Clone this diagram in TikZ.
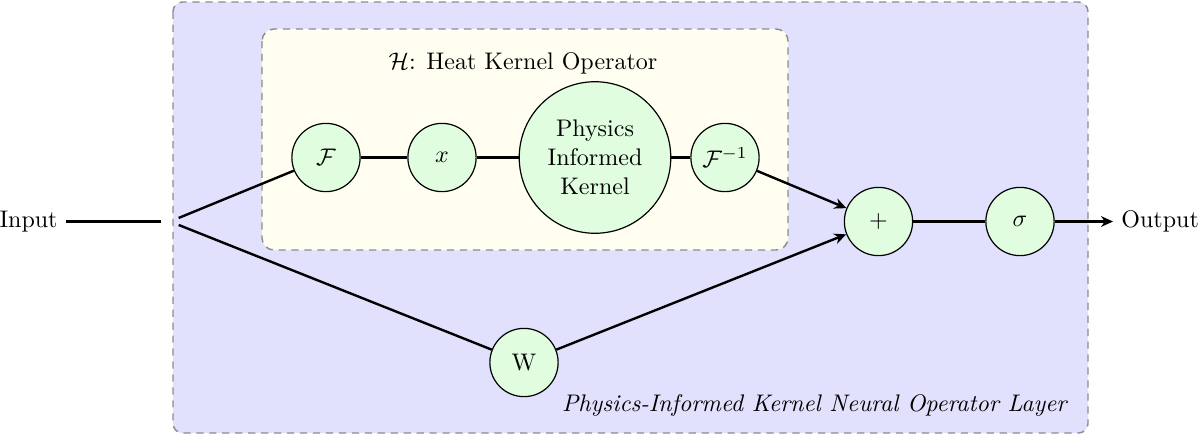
\documentclass[tikz,border=0pt]{standalone}
\usetikzlibrary{arrows.meta}
\definecolor{outerfill}{RGB}{225,225,253}
\definecolor{innerfill}{RGB}{255,254,240}
\definecolor{nodefill}{RGB}{224,253,224}
\definecolor{framegray}{RGB}{140,140,140}
\begin{document}
\begin{tikzpicture}[x=0.01465cm,y=-0.01465cm,
  opnode/.style={circle,draw=black,line width=0.5pt,fill=nodefill,minimum size=1cm,inner sep=1pt},
  bigop/.style={opnode,minimum size=2.22cm,align=center},
  boxframe/.style={draw=framegray,line width=0.6pt,dash pattern=on 3pt off 2.4pt},
  conn/.style={line width=1pt},
  arr/.style={line width=1pt,-{Stealth[length=5pt,width=4.5pt]}}]
\useasboundingbox (0,0) rectangle (1200,436);
% frames
\draw[boxframe,fill=outerfill,rounded corners=4pt] (173,2) rectangle (1088,433);
\draw[boxframe,fill=innerfill,rounded corners=5pt] (262,29) rectangle (788,250);
\node (htitle) at (523,63) {$\mathcal{H}$: Heat Kernel Operator};
\node[anchor=south east,font=\itshape] (layer) at (1075,425) {Physics-Informed Kernel Neural Operator Layer};
% nodes
\node[anchor=east] (in) at (66,221.5) {Input};
\node[circle,inner sep=0pt,minimum size=0.26cm] (split) at (170,221.5) {};
\node[opnode] (F) at (326,157.5) {$\mathcal{F}$};
\node[opnode] (x) at (442,157.5) {$x$};
\node[bigop] (pik) at (595,157.5) {Physics\\Informed\\Kernel};
\node[opnode] (Finv) at (725,157.5) {$\mathcal{F}^{-1}$};
\node[opnode] (W) at (524,362.5) {W};
\node[opnode] (plus) at (878.5,221.5) {$+$};
\node[opnode] (sig) at (1020,221.5) {$\sigma$};
\node[anchor=west] (out) at (1113,221.5) {Output};
% connectors
\draw[conn] (in) -- (split);
\draw[conn] (split) -- (F);
\draw[conn] (split) -- (W);
\draw[conn] (F) -- (x);
\draw[conn] (x) -- (pik);
\draw[conn] (pik) -- (Finv);
\draw[arr] (Finv) -- (plus);
\draw[arr] (W) -- (plus);
\draw[conn] (plus) -- (sig);
\draw[arr] (sig) -- (out);
\end{tikzpicture}
\end{document}
